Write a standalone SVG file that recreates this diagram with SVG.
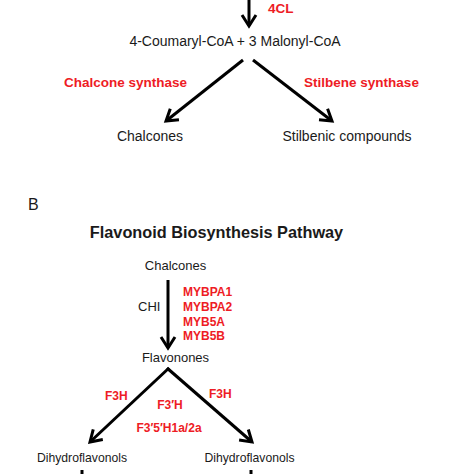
<svg xmlns="http://www.w3.org/2000/svg" width="474" height="474" viewBox="0 0 474 474">
<style>
text{font-family:"Liberation Sans",Arial,sans-serif;font-size:12px;fill:#1a1a1a}
.a{font-size:14px}
.ar{fill:#ee1c25;font-weight:bold;font-size:13.5px}
.r{fill:#ee1c25;font-weight:bold}
.m{font-size:13px}
.d{font-size:12.2px}
.b{font-size:16px}
.t{font-weight:bold;font-size:16.3px}
.c{stroke:#000;stroke-width:3;fill:none}
</style>
<defs>
<marker id="ah" markerUnits="userSpaceOnUse" viewBox="-14 -10 18 20" markerWidth="18" markerHeight="20" refX="0" refY="0" orient="auto">
<path d="M-11,-7 L0,0 L-11,7" fill="none" stroke="#000" stroke-width="3"/>
</marker>
</defs>
<rect width="474" height="474" fill="#fff"/>
<g id="connectors">
<line class="c" x1="249" y1="0" x2="249" y2="26" marker-end="url(#ah)"/>
<line class="c" x1="243" y1="60" x2="166" y2="121" marker-end="url(#ah)"/>
<line class="c" x1="253" y1="60" x2="332" y2="121" marker-end="url(#ah)"/>
<line class="c" x1="168" y1="280" x2="168" y2="348" marker-end="url(#ah)"/>
<line class="c" x1="169" y1="368" x2="90" y2="442" marker-end="url(#ah)"/>
<line class="c" x1="167" y1="368" x2="252" y2="442" marker-end="url(#ah)"/>
<line class="c" x1="82" y1="470" x2="82" y2="474"/>
<line class="c" x1="251" y1="470" x2="251" y2="474"/>
</g>
<g id="enzyme-4cl"><text class="ar" x="268" y="13">4CL</text></g>
<g id="node-precursors"><text class="a" x="235" y="46" text-anchor="middle">4-Coumaryl-CoA + 3 Malonyl-CoA</text></g>
<g id="enzyme-chs"><text class="ar" x="125.5" y="87" text-anchor="middle">Chalcone synthase</text></g>
<g id="enzyme-sts"><text class="ar" x="361.5" y="87" text-anchor="middle">Stilbene synthase</text></g>
<g id="node-chalcones-a"><text class="a" x="150" y="141" text-anchor="middle">Chalcones</text></g>
<g id="node-stilbenic"><text class="a" x="347" y="141" text-anchor="middle">Stilbenic compounds</text></g>
<g id="label-b"><text class="b" x="28" y="210">B</text></g>
<g id="title"><text class="t" x="216.5" y="238" text-anchor="middle">Flavonoid Biosynthesis Pathway</text></g>
<g id="node-chalcones-b"><text class="m" x="175.5" y="270" text-anchor="middle">Chalcones</text></g>
<g id="enzyme-chi"><text class="m" x="138" y="311">CHI</text></g>
<g id="regulators">
<text class="r" x="183" y="296">MYBPA1</text>
<text class="r" x="183" y="311">MYBPA2</text>
<text class="r" x="183" y="326">MYB5A</text>
<text class="r" x="183" y="340">MYB5B</text>
</g>
<g id="node-flavonones"><text class="m" x="175.5" y="362" text-anchor="middle">Flavonones</text></g>
<g id="enzyme-f3h-l"><text class="r" x="105" y="400">F3H</text></g>
<g id="enzyme-f3h-r"><text class="r" x="209" y="398">F3H</text></g>
<g id="enzyme-f3ph"><text class="r" x="170" y="409" text-anchor="middle">F3′H</text></g>
<g id="enzyme-f35h"><text class="r" x="169" y="432" text-anchor="middle">F3′5′H1a/2a</text></g>
<g id="node-dhf-l"><text class="d" x="82" y="462" text-anchor="middle">Dihydroflavonols</text></g>
<g id="node-dhf-r"><text class="d" x="249.5" y="462" text-anchor="middle">Dihydroflavonols</text></g>
</svg>
